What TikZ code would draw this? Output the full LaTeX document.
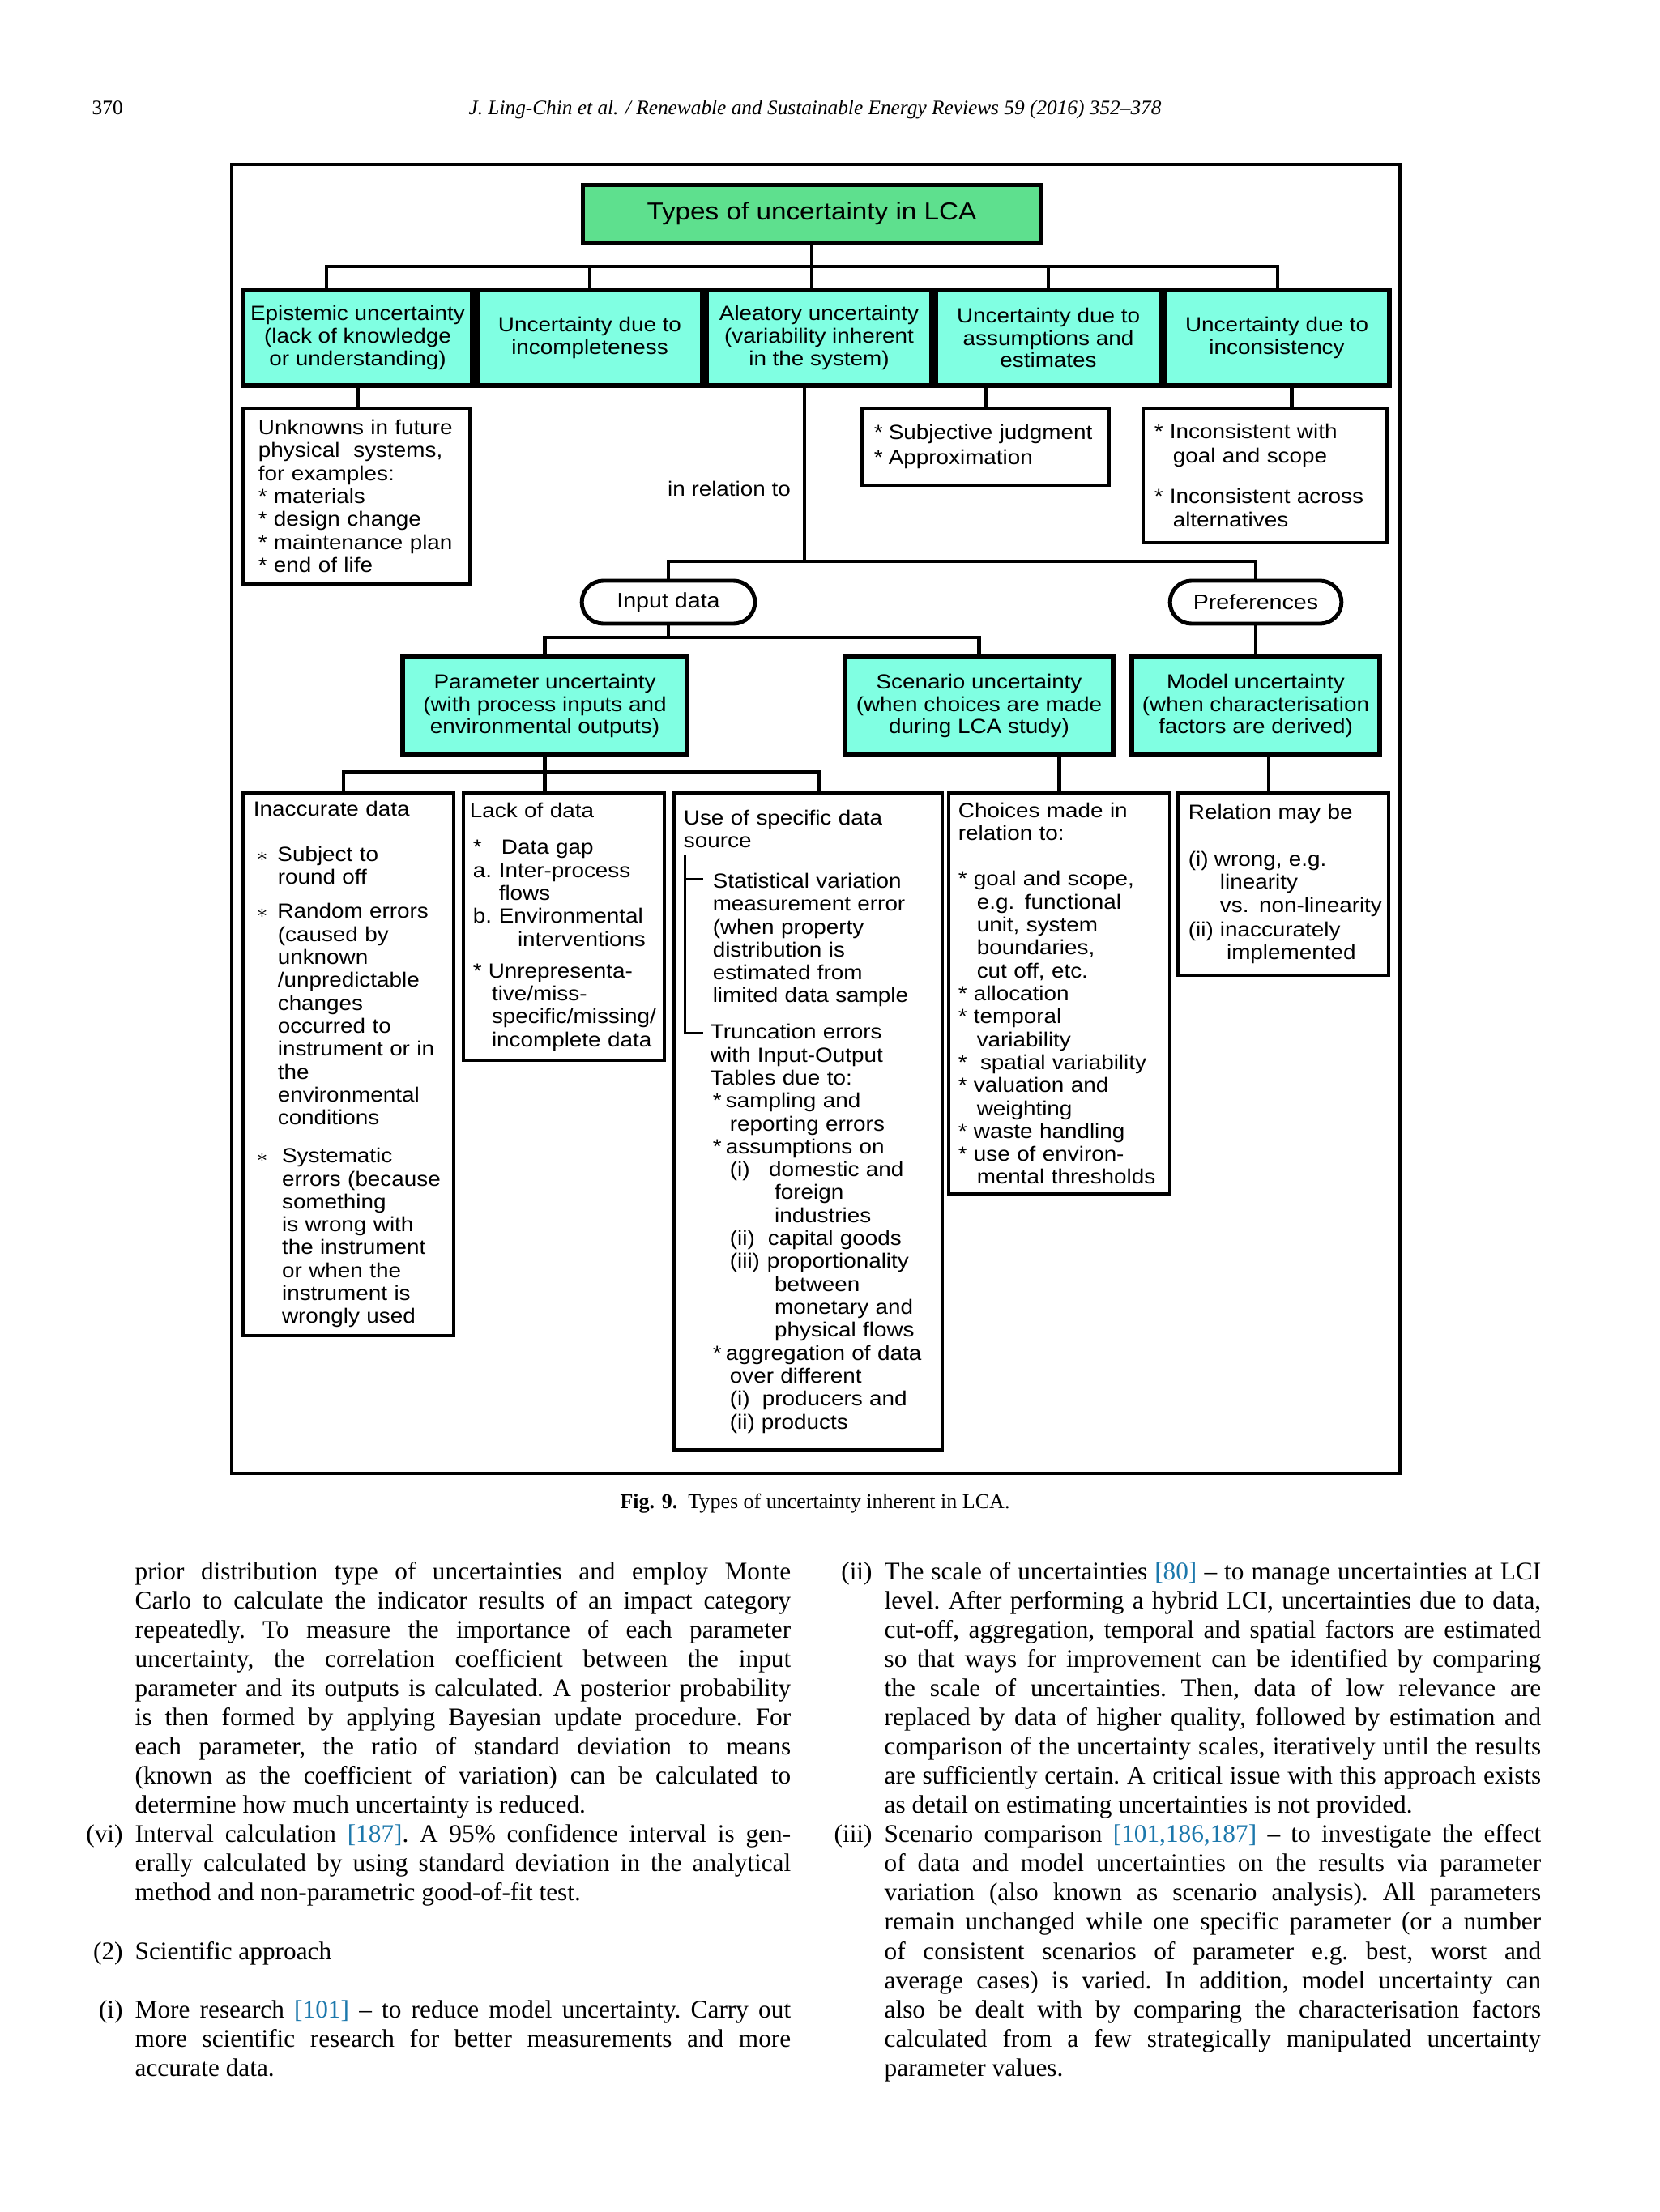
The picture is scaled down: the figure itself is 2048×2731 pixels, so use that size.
\documentclass[tikz,border=0pt]{standalone}
\usepackage{fontspec}
\setmainfont{Liberation Serif}
\newfontfamily\diagfont[FakeStretch=1.1]{Liberation Sans}
\usetikzlibrary{calc,shapes.misc}
\definecolor{headgreen}{RGB}{94,224,142}
\definecolor{typecyan}{RGB}{128,255,226}
\definecolor{citeblue}{RGB}{28,120,172}
\newcommand{\cit}[1]{\textcolor{citeblue}{#1}}
\newcommand{\jl}[1]{\makebox[\hsize][s]{#1}}
\newcommand{\lab}[1]{\makebox[0pt][r]{#1\hspace{4.3pt}}}
\newcommand{\mk}[2]{\makebox[#1][l]{#2}}
\newcommand{\bodyspacing}{\frenchspacing\spaceskip=0.25em plus 0.2em minus 0.1em\relax}

\begin{document}
\begin{tikzpicture}[x=0.01cm, y=-0.01cm,
  conn/.style={line width=1.3pt},
  titlebox/.style={draw, line width=1.5pt, fill=headgreen, minimum width=5.65cm, minimum height=0.71cm, font=\diagfont\fontsize{8.6}{10}\selectfont},
  typebox/.style={draw, line width=1.5pt, fill=typecyan, align=center, inner sep=0pt, minimum height=1.18cm, font=\diagfont\fontsize{7.2}{7.9}\selectfont},
  subbox/.style={typebox, minimum height=1.21cm, font=\diagfont\fontsize{7.2}{7.7}\selectfont},
  detail/.style={draw, line width=1.3pt, fill=white, align=left, inner ysep=0pt, font=\diagfont\fontsize{7.2}{8.05}\selectfont},
  pill/.style={draw, rounded rectangle, line width=1.4pt, fill=white, minimum height=0.53cm, font=\diagfont\fontsize{7.4}{9}\selectfont},
  bodycol/.style={anchor=base west, inner sep=0pt, align=left, font=\fontsize{8.9}{10.26}\selectfont},
]
\fill[white] (0,0) rectangle (2048,2731);
\useasboundingbox (0,0) rectangle (2048,2731);

% running head
\node[anchor=base west, inner sep=0pt, font=\fontsize{7.2}{9}\selectfont] (pagenum) at (113,142) {370};
\node[anchor=base, inner sep=0pt, font=\itshape\fontsize{7.2}{9}\selectfont] (runhead) at (1006,142) {J. Ling-Chin et al. / Renewable and Sustainable Energy Reviews 59 (2016) 352–378};

% figure frame
\draw[line width=1.4pt] (286,203) rectangle (1728,1819);

\node[titlebox] (title) at (1002,264) {Types of uncertainty in LCA};

% types
\node[typebox, minimum width=2.83cm] (epi) at (441.5,417) {Epistemic uncertainty\\(lack of knowledge\\or understanding)};
\node[typebox, minimum width=2.78cm] (incomp) at (728,417) {Uncertainty due to\\incompleteness};
\node[typebox, minimum width=2.78cm] (alea) at (1011,417) {Aleatory uncertainty\\(variability inherent\\in the system)};
\node[typebox, minimum width=2.78cm] (assum) at (1294,417) {Uncertainty due to\\assumptions and\\estimates};
\node[typebox, minimum width=2.78cm] (incons) at (1576,417) {Uncertainty due to\\inconsistency};

\node[detail, text width=2.42cm, inner xsep=0.19cm, minimum height=2.17cm] (epid) at (440,612.5) {%
Unknowns in future\\
physical\ \ systems,\\
for examples:\\
\mk{5.4pt}{*}materials\\
\mk{5.4pt}{*}design change\\
\mbox{\mk{5.4pt}{*}maintenance plan}\\
\mk{5.4pt}{*}end of life};
\node[detail, text width=2.75cm, inner xsep=0.15cm, minimum height=0.95cm] (assd) at (1216.5,551.5) {%
\mbox{\mk{5.1pt}{*}Subjective judgment}\\[1pt]
\mk{5.1pt}{*}Approximation};
\node[detail, text width=2.73cm, inner xsep=0.14cm, minimum height=1.66cm] (incd) at (1561.5,587) {%
\mk{5.4pt}{*}Inconsistent with\\[0.5pt]
\hspace*{6.5pt}goal and scope\\[6.2pt]
\mbox{\mk{5.4pt}{*}Inconsistent across}\\
\hspace*{6.5pt}alternatives};

\node[font=\diagfont\fontsize{7.2}{9}\selectfont] (relto) at (900,603) {in relation to};

\node[pill, minimum width=2.37cm] (input) at (825,743.5) {Input data};
\node[pill, minimum width=2.35cm] (pref) at (1550,743.5) {Preferences};

\node[subbox, minimum width=3.51cm] (param) at (672.5,871.5) {Parameter uncertainty\\(with process inputs and\\environmental outputs)};
\node[subbox, minimum width=3.31cm] (scen) at (1208.5,871.5) {Scenario uncertainty\\(when choices are made\\during LCA study)};
\node[subbox, minimum width=3.06cm] (model) at (1550,871.5) {Model uncertainty\\(when characterisation\\factors are derived)};

% sources
\node[detail, text width=2.34cm, inner xsep=0.13cm, minimum height=6.70cm] (inacc) at (430,1314) {%
Inaccurate data\\[8pt]
\hspace*{1pt}\mk{7.4pt}{$\ast$}Subject to\\
\hspace*{8.5pt}round off\\[3.9pt]
\hspace*{1pt}\mk{7.4pt}{$\ast$}Random errors\\
\hspace*{8.5pt}(caused by\\
\hspace*{8.5pt}unknown\\
\hspace*{8.5pt}/unpredictable\\
\hspace*{8.5pt}changes\\
\hspace*{8.5pt}occurred to\\
\hspace*{8.5pt}\mbox{instrument or in}\\
\hspace*{8.5pt}the\\
\hspace*{8.5pt}environmental\\
\hspace*{8.5pt}conditions\\[5.3pt]
\hspace*{1pt}\mk{9pt}{$\ast$}Systematic\\
\hspace*{10pt}\mbox{errors (because}\\
\hspace*{10pt}something\\
\hspace*{10pt}is wrong with\\
\hspace*{10pt}the instrument\\
\hspace*{10pt}or when the\\
\hspace*{10pt}instrument is\\
\hspace*{10pt}wrongly used};
\node[detail, text width=2.32cm, inner xsep=0.08cm, minimum height=3.30cm] (lack) at (696,1144) {%
Lack of data\\[5pt]
\hspace*{1.1pt}\mk{10pt}{*}Data gap\\
\hspace*{1.1pt}\mk{9.1pt}{a.}Inter-process\\
\hspace*{10.2pt}flows\\
\hspace*{1.1pt}\mk{9.1pt}{b.}Environmental\\
\hspace*{16.8pt}interventions\\[3pt]
\hspace*{1.1pt}\mk{5.4pt}{*}Unrepresenta-\\
\hspace*{7.7pt}tive/miss-\\
\hspace*{7.7pt}specific/missing/\\
\hspace*{7.7pt}\mbox{incomplete data}};
\node[detail, text width=3.07cm, inner xsep=0.12cm, minimum height=8.11cm] (usesrc) at (997.5,1384.5) {%
Use of specific data\\
source\\[6.2pt]
\hspace*{10.2pt}Statistical variation\\
\hspace*{10.2pt}measurement error\\
\hspace*{10.2pt}(when property\\
\hspace*{10.2pt}distribution is\\
\hspace*{10.2pt}estimated from\\
\hspace*{10.2pt}limited data sample\\[4.7pt]
\hspace*{9.4pt}Truncation errors\\
\hspace*{9.4pt}with Input-Output\\
\hspace*{9.4pt}Tables due to:\\
\hspace*{10.2pt}\mk{4.6pt}{*}sampling and\\
\hspace*{16.2pt}reporting errors\\
\hspace*{10.2pt}\mk{4.6pt}{*}assumptions on\\
\hspace*{16.2pt}\mk{13.7pt}{(i)}domestic and\\
\hspace*{31.9pt}foreign\\
\hspace*{31.9pt}industries\\
\hspace*{16.2pt}\mk{13.4pt}{(ii)}capital goods\\
\hspace*{16.2pt}\mk{13.1pt}{(iii)}proportionality\\
\hspace*{31.9pt}between\\
\hspace*{31.9pt}monetary and\\
\hspace*{31.9pt}physical flows\\
\hspace*{10.2pt}\mbox{\mk{4.6pt}{*}aggregation of data}\\
\hspace*{16.2pt}over different\\
\hspace*{16.2pt}\mk{11.4pt}{(i)}producers and\\
\hspace*{16.2pt}\mk{11.1pt}{(ii)}products};
\node[detail, text width=2.49cm, inner xsep=0.12cm, minimum height=4.95cm] (choice) at (1307.5,1226.5) {%
Choices made in\\
relation to:\\[8pt]
\mk{5.4pt}{*}goal and scope,\\
\hspace*{6.5pt}e.g. functional\\
\hspace*{6.5pt}unit, system\\
\hspace*{6.5pt}boundaries,\\
\hspace*{6.5pt}cut off, etc.\\
\mk{5.4pt}{*}allocation\\
\mk{5.4pt}{*}temporal\\
\hspace*{6.5pt}variability\\
\mbox{\mk{7.7pt}{*}spatial variability}\\
\mk{5.4pt}{*}valuation and\\
\hspace*{6.5pt}weighting\\
\mk{5.4pt}{*}waste handling\\
\mk{5.4pt}{*}use of environ-\\
\hspace*{6.5pt}\mbox{mental thresholds}};
\node[detail, text width=2.34cm, inner xsep=0.13cm, minimum height=2.25cm] (relat) at (1584,1091.5) {%
Relation may be\\[8.5pt]
\mk{9.1pt}{(i)}wrong, e.g.\\
\hspace*{11.1pt}linearity\\
\hspace*{11.1pt}\mbox{vs. non-linearity}\\[0.5pt]
\mk{11.1pt}{(ii)}inaccurately\\
\hspace*{13.4pt}implemented};

% connectors
\coordinate (b1w) at (403,329);
\coordinate (b1e) at (1577,329);
\draw[conn] (b1w |- epi.north) -- (b1w) -- (b1e) -- (b1e |- incons.north);
\draw[conn] (title.south) -- (title.south |- alea.north);
\draw[conn] (incomp.north) -- (incomp.north |- b1w);
\draw[conn] (assum.north) -- (assum.north |- b1w);
\draw[conn] (epi.south) -- (epi.south |- epid.north);
\draw[conn] (assd.north) -- (assd.north |- assum.south);
\coordinate (incstem) at ($(incd.north)+(33,0)$);
\draw[conn] (incstem) -- (incstem |- incons.south);
\coordinate (aleastem) at ($(alea.south)+(-18,0)$);
\coordinate (b2) at (0,693);
\draw[conn] (aleastem) -- (aleastem |- b2);
\draw[conn] (input.north) -- (input.north |- b2) -- (pref.north |- b2) -- (pref.north);
\coordinate (b3) at (0,787);
\draw[conn] (input.south) -- (input.south |- b3);
\draw[conn] (param.north) -- (param.north |- b3) -- (scen.north |- b3) -- (scen.north);
\draw[conn] (pref.south) -- (model.north);
\coordinate (b4w) at (424,953);
\coordinate (b4e) at (1011,953);
\draw[conn] (b4w |- inacc.north) -- (b4w) -- (b4e) -- (b4e |- usesrc.north);
\draw[conn] (param.south) -- (param.south |- lack.north);
\draw[conn] (choice.north) -- (choice.north |- scen.south);
\coordinate (relstem) at ($(relat.north)+(-18,0)$);
\draw[conn] (relstem) -- (relstem |- model.south);
% bracket in the data source box
\draw[line width=0.9pt] ($(usesrc.north west)+(16,80)$) -- ($(usesrc.north west)+(16,299)$) -- ($(usesrc.north west)+(38,299)$);
\draw[line width=0.9pt] ($(usesrc.north west)+(16,109)$) -- ($(usesrc.north west)+(38,109)$);

\node[anchor=base, inner sep=0pt, font=\fontsize{7.4}{9}\selectfont] (caption) at (1006,1862) {\textbf{Fig. 9.}\enspace Types of uncertainty inherent in LCA.};

% body text
\node[bodycol, text width=8.09cm] (leftcol) at (166,1950) {\bodyspacing
\jl{prior distribution type of uncertainties and employ Monte}\\
\jl{Carlo to calculate the indicator results of an impact category}\\
\jl{repeatedly. To measure the importance of each parameter}\\
\jl{uncertainty, the correlation coefficient between the input}\\
\jl{parameter and its outputs is calculated. A posterior probability}\\
\jl{is then formed by applying Bayesian update procedure. For}\\
\jl{each parameter, the ratio of standard deviation to means}\\
\jl{(known as the coefficient of variation) can be calculated to}\\
determine how much uncertainty is reduced.\\
\lab{(vi)}\jl{Interval calculation \cit{[187]}. A 95\% confidence interval is gen-}\\
\jl{erally calculated by using standard deviation in the analytical}\\
method and non-parametric good-of-fit test.\\[10.26pt]
\lab{(2)}Scientific approach\\[10.26pt]
\lab{(i)}\jl{More research \cit{[101]} – to reduce model uncertainty. Carry out}\\
\jl{more scientific research for better measurements and more}\\
accurate data.};
\node[bodycol, text width=8.10cm] (rightcol) at (1091,1950) {\bodyspacing
\lab{(ii)}\jl{The scale of uncertainties \cit{[80]} – to manage uncertainties at LCI}\\
\jl{level. After performing a hybrid LCI, uncertainties due to data,}\\
\jl{cut-off, aggregation, temporal and spatial factors are estimated}\\
\jl{so that ways for improvement can be identified by comparing}\\
\jl{the scale of uncertainties. Then, data of low relevance are}\\
\jl{replaced by data of higher quality, followed by estimation and}\\
\jl{comparison of the uncertainty scales, iteratively until the results}\\
\jl{are sufficiently certain. A critical issue with this approach exists}\\
as detail on estimating uncertainties is not provided.\\
\lab{(iii)}\jl{Scenario comparison \cit{[101,186,187]} – to investigate the effect}\\
\jl{of data and model uncertainties on the results via parameter}\\
\jl{variation (also known as scenario analysis). All parameters}\\
\jl{remain unchanged while one specific parameter (or a number}\\
\jl{of consistent scenarios of parameter e.g. best, worst and}\\
\jl{average cases) is varied. In addition, model uncertainty can}\\
\jl{also be dealt with by comparing the characterisation factors}\\
\jl{calculated from a few strategically manipulated uncertainty}\\
parameter values.};
\end{tikzpicture}
\end{document}
